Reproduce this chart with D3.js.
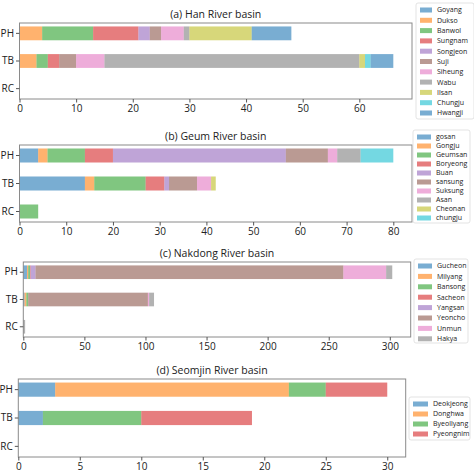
<!DOCTYPE html>
<html>
<head>
<meta charset="utf-8">
<script src="https://cdn.jsdelivr.net/npm/d3@7"></script>
<style>
  body { margin: 0; background: #fff; }
  svg { font-family: "Open Sans", "DejaVu Sans", sans-serif; }
</style>
</head>
<body>
<svg id="chart" width="474" height="474"></svg>
<script>
// rows of every panel, top to bottom
const rows = ["PH", "TB", "RC"];

// (a) Han River basin
const hanStations = ["Goyang", "Dukso", "Banwol", "Sungnam", "Songjeon", "Suji", "Siheung", "Wabu", "Ilsan", "Chungju", "Hwangji"];
const hanPH = [0, 4, 9, 8, 2, 2, 4, 1, 11, 0, 7];
const hanTB = [0, 3, 2, 2, 0, 3, 5, 45, 1, 1, 4];
const hanRC = [0, 0, 0, 0, 0, 0, 0, 0, 0, 0, 0];
const hanTicks = [0, 10, 20, 30, 40, 50, 60];

// (b) Geum River basin
const geumStations = ["gosan", "Gongju", "Geumsan", "Boryeong", "Buan", "sansung", "Suksung", "Asan", "Cheonan", "chungju"];
const geumPH = [4, 2, 8, 6, 37, 9, 2, 5, 0, 7];
const geumTB = [14, 2, 11, 4, 1, 6, 3, 0, 1, 0];
const geumRC = [0, 0, 4, 0, 0, 0, 0, 0, 0, 0];
const geumTicks = [0, 10, 20, 30, 40, 50, 60, 70, 80];

// (c) Nakdong River basin
const nakdongStations = ["Gucheon", "Milyang", "Bansong", "Sacheon", "Yangsan", "Yeoncho", "Unmun", "Hakya"];
const nakdongPH = [3, 1, 1.5, 0.5, 4, 252, 35, 5];
const nakdongTB = [1, 1.5, 1.5, 0, 0, 98, 1, 4];
const nakdongRC = [0, 0, 0, 0, 0, 0, 0, 1.5];
const nakdongTicks = [0, 50, 100, 150, 200, 250, 300];

// (d) Seomjin River basin
const seomjinStations = ["Deokjeong", "Donghwa", "Byeollyang", "Pyeongnim"];
const seomjinPH = [3, 19, 3, 5];
const seomjinTB = [2, 0, 8, 9];
const seomjinRC = [0, 0, 0, 0];
const seomjinTicks = [0, 5, 10, 15, 20, 25, 30];

const svg = d3.select("#chart");
const palette = d3.schemeCategory10;

// panel boxes and legend boxes, in pixels
const panels = [
  { title: "(a) Han River basin", stations: hanStations, values: [hanPH, hanTB, hanRC], ticks: hanTicks,
    box: { left: 19.5, right: 412, top: 23, bottom: 99 },
    legend: { x: 416, y: 3, w: 58, h: 116, step: 10.3, sw: 12 } },
  { title: "(b) Geum River basin", stations: geumStations, values: [geumPH, geumTB, geumRC], ticks: geumTicks,
    box: { left: 19.5, right: 412, top: 145, bottom: 222 },
    legend: { x: 413, y: 130, w: 57, h: 93, step: 9, sw: 14 } },
  { title: "(c) Nakdong River basin", stations: nakdongStations, values: [nakdongPH, nakdongTB, nakdongRC], ticks: nakdongTicks,
    box: { left: 23.3, right: 410.7, top: 262, bottom: 337 },
    legend: { x: 414, y: 259, w: 54, h: 84, step: 10.4, sw: 14 } },
  { title: "(d) Seomjin River basin", stations: seomjinStations, values: [seomjinPH, seomjinTB, seomjinRC], ticks: seomjinTicks,
    box: { left: 18.3, right: 405.7, top: 379, bottom: 457 },
    legend: { x: 409, y: 397, w: 61, h: 43, step: 10, sw: 15 } }
];

panels.forEach(p => drawPanel(p));

function drawPanel(p) {
  const b = p.box;
  const table = rows.map((r, i) => {
    const d = { row: r };
    p.stations.forEach((s, j) => { d[s] = p.values[i][j]; });
    return d;
  });
  const totals = p.values.map(v => d3.sum(v));
  const xmax = d3.max(totals) * 1.05;

  const x = d3.scaleLinear().domain([0, xmax]).range([b.left, b.right]);
  const y = d3.scaleBand().domain(rows).range([b.top, b.bottom])
    .paddingInner(0.5).paddingOuter(0.125);

  const series = d3.stack().keys(p.stations)(table);

  const g = svg.append("g");

  g.selectAll("g.layer")
    .data(series)
    .enter()
    .append("g")
    .attr("class", "layer")
    .attr("fill", (d, i) => palette[i % 10])
    .attr("fill-opacity", 0.6)
    .selectAll("rect")
    .data(d => d)
    .enter()
    .filter(d => d[1] - d[0] > 0)
    .append("rect")
    .attr("x", d => x(d[0]))
    .attr("width", d => x(d[1]) - x(d[0]))
    .attr("y", d => y(d.data.row))
    .attr("height", y.bandwidth());

  // frame
  g.append("rect")
    .attr("x", b.left).attr("y", b.top)
    .attr("width", b.right - b.left).attr("height", b.bottom - b.top)
    .attr("fill", "none").attr("stroke", "#8a8a8a").attr("stroke-width", 1);

  const xAxis = g.append("g")
    .attr("transform", `translate(0,${b.bottom})`)
    .call(d3.axisBottom(x).tickValues(p.ticks).tickSize(3.5).tickPadding(2).tickSizeOuter(0));
  const yAxis = g.append("g")
    .attr("transform", `translate(${b.left},0)`)
    .call(d3.axisLeft(y).tickSize(3.5).tickPadding(2).tickSizeOuter(0));

  [xAxis, yAxis].forEach(a => {
    a.select(".domain").remove();
    a.selectAll("line").attr("stroke", "#555");
    a.selectAll("text").attr("fill", "#222").style("font-size", "10px")
      .style("font-family", "'Open Sans', 'DejaVu Sans', sans-serif");
  });

  g.append("text")
    .attr("x", (b.left + b.right) / 2)
    .attr("y", b.top - 5)
    .attr("text-anchor", "middle")
    .attr("fill", "#222")
    .style("font-size", "10.5px")
    .text(p.title);

  // legend
  const L = p.legend;
  const lg = g.append("g");
  lg.append("rect")
    .attr("x", L.x).attr("y", L.y).attr("width", L.w).attr("height", L.h)
    .attr("rx", 2).attr("fill", "#fff").attr("stroke", "#dcdcdc").attr("stroke-width", 0.8);
  const items = lg.selectAll("g.item")
    .data(p.stations)
    .enter()
    .append("g")
    .attr("class", "item")
    .attr("transform", (d, i) => `translate(${L.x + 4},${L.y + 7 + i * L.step})`);
  items.append("rect")
    .attr("x", 0).attr("y", -2.5).attr("width", L.sw).attr("height", 5)
    .attr("fill", (d, i) => palette[i % 10]).attr("fill-opacity", 0.6);
  items.append("text")
    .attr("x", L.sw + 5).attr("y", 0).attr("dy", "0.35em")
    .attr("fill", "#222")
    .style("font-size", "7px")
    .text(d => d);
}
</script>
</body>
</html>
